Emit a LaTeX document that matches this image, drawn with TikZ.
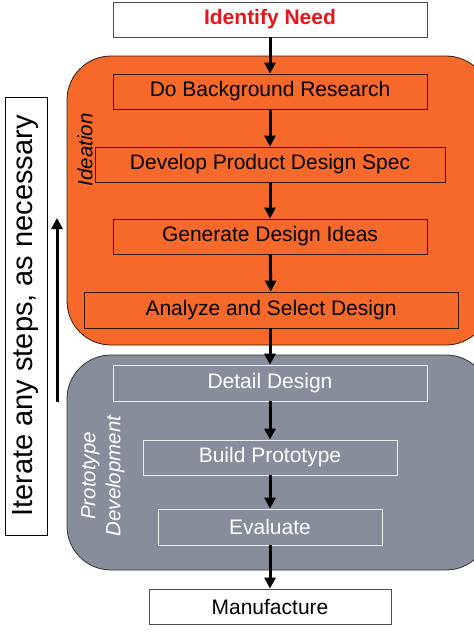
\documentclass[tikz,border=0pt]{standalone}
\usepackage{fontspec}
\setmainfont{Liberation Sans}
\usetikzlibrary{arrows.meta}
\definecolor{ideaorange}{HTML}{F7692B}
\definecolor{protogray}{HTML}{878D9B}
\definecolor{needred}{HTML}{E8141B}
\begin{document}
\begin{tikzpicture}[x=1pt,y=-1pt,
  stagebox/.style={draw=black!80!orange,line width=0.8pt,rounded corners=44pt},
  whitebox/.style={draw=black!70,line width=0.8pt,fill=white,inner sep=0pt,
    font=\fontsize{21}{24}\selectfont,text=black},
  orangebox/.style={draw=black!80!orange,line width=0.8pt,fill=ideaorange,inner sep=0pt,
    font=\fontsize{21}{24}\selectfont,text=black},
  graybox/.style={draw=white!85!protogray,line width=0.8pt,fill=protogray,inner sep=0pt,
    font=\fontsize{21}{24}\selectfont,text=white},
  flow/.style={line width=3pt,-{Triangle[length=11pt,width=11pt]}},
  phase/.style={font=\fontsize{20.5}{25}\selectfont\itshape,rotate=90,align=center}]
\useasboundingbox (0,0) rectangle (474,632);
\clip (0,0) rectangle (474,632);
\fill[white] (0,0) rectangle (474,632);
% stage backgrounds
\draw[stagebox,fill=ideaorange] (67,56) rectangle (490,345);
\draw[stagebox,fill=protogray,draw=black!80] (67,355) rectangle (490,570);
% phase labels
\node[phase,text=black] (lidea) at (85,150) {Ideation};
\node[phase,text=white] (lproto) at (103,476) {Prototype\\Development};
% steps
\node[whitebox,minimum width=314pt,minimum height=35pt,font=\fontsize{21}{24}\selectfont\bfseries,text=needred] (need) at (270,19.5) {Identify Need};
\node[orangebox,minimum width=314pt,minimum height=35pt] (bg) at (270,91.5) {Do Background Research};
\node[orangebox,minimum width=350pt,minimum height=35pt] (spec) at (270,164.5) {Develop Product Design Spec};
\node[orangebox,minimum width=314pt,minimum height=35pt] (ideas) at (270,236.5) {Generate Design Ideas};
\node[orangebox,minimum width=374pt,minimum height=36pt] (sel) at (271,310) {Analyze and Select Design};
\node[graybox,minimum width=314pt,minimum height=36pt] (detail) at (270,383) {Detail Design};
\node[graybox,minimum width=254pt,minimum height=35pt] (build) at (270,457.5) {Build Prototype};
\node[graybox,minimum width=224pt,minimum height=36pt] (eval) at (270,527) {Evaluate};
\node[whitebox,minimum width=242pt,minimum height=35pt] (manu) at (270,606.5) {Manufacture};
% flow arrows
\draw[flow] (need) -- (bg);
\draw[flow] (bg) -- (spec);
\draw[flow] (spec) -- (ideas);
\draw[flow] (ideas) -- (sel);
\draw[flow] (sel.south -| detail.north) -- (detail);
\draw[flow] (detail) -- (build);
\draw[flow] (build) -- (eval);
\draw[flow] (eval) -- (manu);
% iterate
\node[draw=black,line width=0.8pt,minimum width=438pt,minimum height=42pt,inner sep=0pt,rotate=90,
  font=\fontsize{29}{33}\selectfont] (iter) at (26,316) {Iterate any steps, as necessary};
\coordinate (itlow) at (57,402);
\coordinate (ithigh) at (57,218);
\draw[flow] (itlow) -- (ithigh);
\end{tikzpicture}
\end{document}
